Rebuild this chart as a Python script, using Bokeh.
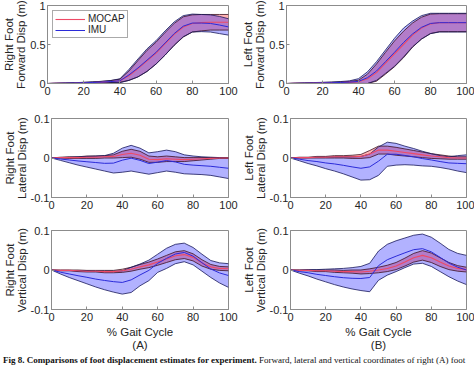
from bokeh.plotting import figure
from bokeh.layouts import column, row
from bokeh.models import FixedTicker, Legend, LegendItem, Div, Range1d
from bokeh.embed import file_html
from bokeh.resources import INLINE
import numpy as np

# ---------------- data ----------------
gait = [0, 5, 10, 15, 20, 25, 30, 35, 40, 45, 50, 55, 60, 65, 70, 75, 80, 85, 90, 95, 100]

# Right foot forward
rf_fwd_mocap_mean = [0, .002, .004, .006, .009, .013, .018, .025, .036, .10, .19, .29, .39, .51, .63, .725, .77, .78, .785, .785, .785]
rf_fwd_mocap_sd = [0, .002, .003, .004, .005, .007, .009, .012, .02, .06, .105, .135, .14, .145, .14, .13, .11, .105, .1, .1, .1]
rf_fwd_imu_mean = [0, .002, .004, .006, .009, .013, .018, .025, .035, .11, .20, .30, .40, .52, .64, .735, .775, .775, .77, .75, .725]
rf_fwd_imu_sd = [0, .003, .004, .005, .006, .008, .01, .014, .025, .07, .115, .145, .15, .155, .15, .135, .115, .11, .11, .11, .105]

# Left foot forward
lf_fwd_mocap_mean = [0, .002, .004, .006, .008, .01, .013, .017, .022, .06, .14, .26, .38, .50, .62, .71, .765, .78, .78, .78, .78]
lf_fwd_mocap_sd = [0, .002, .003, .004, .005, .006, .008, .01, .02, .06, .11, .14, .165, .17, .155, .14, .125, .115, .115, .115, .115]
lf_fwd_imu_mean = [0, .002, .004, .006, .008, .01, .013, .018, .027, .075, .16, .28, .40, .525, .635, .72, .77, .78, .78, .78, .78]
lf_fwd_imu_sd = [0, .003, .004, .006, .007, .009, .012, .016, .035, .075, .12, .15, .18, .185, .165, .15, .13, .12, .12, .12, .12]

# Right foot lateral
rf_lat_mocap_mean = [0, .001, .001, .001, .002, .002, .003, .004, .009, .012, .007, -.003, -.004, -.002, -.003, -.004, -.003, -.002, -.001, 0, 0]
rf_lat_mocap_sd = [0, .001, .002, .002, .003, .003, .003, .004, .008, .01, .01, .008, .007, .007, .006, .005, .004, .003, .002, .001, .001]
rf_lat_imu_mean = [0, -.0025, -.005, -.0075, -.0095, -.0115, -.0135, -.013, -.0055, -.0005, -.006, -.014, -.0105, -.0065, -.01, -.016, -.018, -.0195, -.021, -.0235, -.026]
rf_lat_imu_sd = [0, .0035, .007, .0105, .0135, .0165, .0195, .025, .0305, .0325, .031, .027, .0265, .0265, .026, .024, .023, .0225, .023, .0245, .026]

# Left foot lateral
lf_lat_mocap_mean = [0, .001, .001, .002, .002, .003, .003, .003, .004, .01, .02, .02, .017, .014, .011, .008, .005, .003, .001, 0, 0]
lf_lat_mocap_sd = [0, .001, .001, .002, .002, .003, .003, .004, .005, .009, .01, .01, .01, .009, .008, .007, .006, .005, .004, .003, .003]
lf_lat_imu_mean = [0, -.003, -.0065, -.009, -.0125, -.015, -.0185, -.0225, -.026, -.0225, -.008, .0095, .0095, .0065, .003, -.0015, -.005, -.009, -.0125, -.0135, -.0145]
lf_lat_imu_sd = [0, .004, .0075, .011, .0145, .018, .0215, .0255, .03, .0325, .036, .0305, .0275, .0235, .021, .0185, .016, .015, .0155, .0195, .0225]

# Right foot vertical
rf_vert_mocap_mean = [0, -.001, -.001, -.002, -.003, -.003, -.004, -.004, -.002, .002, .008, .013, .02, .028, .036, .039, .032, .018, .008, .004, .003]
rf_vert_mocap_sd = [0, .001, .001, .002, .002, .002, .003, .003, .004, .005, .006, .007, .008, .009, .01, .01, .009, .008, .006, .005, .005]
rf_vert_imu_mean = [0, -.0055, -.01, -.0145, -.0185, -.023, -.0265, -.0295, -.0315, -.025, -.0125, -.001, .017, .0295, .0405, .0445, .035, .0185, .0025, -.0075, -.014]
rf_vert_imu_sd = [0, .0045, .009, .0125, .0165, .02, .0235, .0265, .0295, .032, .0275, .026, .023, .0255, .0245, .0235, .022, .0215, .0215, .0255, .03]

# Left foot vertical
lf_vert_mocap_mean = [0, -.001, -.001, -.002, -.002, -.003, -.004, -.004, -.005, -.003, 0, .004, .01, .02, .031, .037, .031, .02, .01, .004, .001]
lf_vert_mocap_sd = [0, .001, .001, .002, .002, .003, .003, .004, .005, .006, .007, .008, .009, .01, .011, .012, .012, .011, .009, .007, .006]
lf_vert_imu_mean = [0, -.004, -.007, -.011, -.014, -.017, -.0195, -.021, -.0215, -.019, .011, .026, .035, .0435, .0515, .054, .046, .032, .0175, .007, 0]
lf_vert_imu_sd = [0, .004, .008, .012, .016, .02, .0235, .027, .0305, .036, .037, .039, .039, .0375, .0365, .037, .037, .036, .0345, .035, .037]

fwd_ticks = [0, 0.5, 1]
fwd_tick_labels = ["0", "0.5", "1"]
disp_ticks = [-0.1, 0, 0.1]
disp_tick_labels = ["-0.1", "0", "0.1"]
x_ticks = [0, 20, 40, 60, 80, 100]

FONT = "Liberation Sans"
AX = "#8c8c8c"
TXT = "#262626"


def panel(mm, ms, im, isd, ylabel, yr, yt, ytl, w, h, bl, br, bt, bb, xlabel=None, legend=False):
    p = figure(width=w, height=h, x_range=Range1d(0, 100), y_range=Range1d(*yr),
               output_backend="svg", toolbar_location=None,
               min_border_left=bl, min_border_right=br, min_border_top=bt, min_border_bottom=bb)
    mm, ms, im, isd = map(np.asarray, (mm, ms, im, isd))
    p.varea(x=gait, y1=mm - ms, y2=mm + ms, fill_color="red", fill_alpha=0.3)
    p.varea(x=gait, y1=im - isd, y2=im + isd, fill_color="blue", fill_alpha=0.3)
    for y in (mm - ms, mm + ms):
        p.line(gait, y, line_color="#3d1020", line_width=0.8)
    for y in (im - isd, im + isd):
        p.line(gait, y, line_color="#16165a", line_width=0.8)
    lm = p.line(gait, mm, line_color="#ee4a66", line_width=1.1)
    li = p.line(gait, im, line_color="#2b2bd9", line_width=1)

    p.grid.visible = False
    p.outline_line_color = AX
    p.background_fill_color = "white"
    p.border_fill_color = "white"
    for ax in (p.xaxis[0], p.yaxis[0]):
        ax.axis_line_color = AX
        ax.major_tick_line_color = AX
        ax.major_tick_in = 3
        ax.major_tick_out = 0
        ax.minor_tick_line_color = None
        ax.major_label_text_font = FONT
        ax.major_label_text_font_size = "11px"
        ax.major_label_text_color = TXT
        ax.axis_label_text_font = FONT
        ax.axis_label_text_font_size = "11.5px"
        ax.axis_label_text_font_style = "normal"
        ax.axis_label_text_color = TXT
    p.xaxis.ticker = FixedTicker(ticks=x_ticks)
    p.xaxis.major_label_standoff = 3
    p.yaxis.ticker = FixedTicker(ticks=yt)
    p.yaxis.major_label_overrides = {t: s for t, s in zip(yt, ytl)}
    p.yaxis.major_label_standoff = 2
    p.yaxis.axis_label = ylabel
    p.yaxis.axis_label_standoff = 0
    p.yaxis.axis_label_text_line_height = 1.0
    if xlabel:
        p.xaxis.axis_label = xlabel
        p.xaxis.axis_label_standoff = 2
        p.xaxis.axis_label_text_line_height = 1.15
    if legend:
        lg = Legend(items=[LegendItem(label="MOCAP", renderers=[lm]),
                           LegendItem(label="IMU", renderers=[li])],
                    location="top_left", margin=5, padding=2, spacing=0,
                    label_text_font=FONT, label_text_font_size="10px",
                    label_text_color=TXT, label_standoff=3,
                    glyph_width=30, glyph_height=10, label_height=10,
                    border_line_color="#555555", border_line_width=0.8,
                    background_fill_alpha=1)
        p.add_layout(lg)
    return p


LW, RW = 239, 235
BL, LBR, RBR = 46, 11, 8

p1 = panel(rf_fwd_mocap_mean, rf_fwd_mocap_sd, rf_fwd_imu_mean, rf_fwd_imu_sd,
           "Right Foot\nForward Disp (m)", (0, 1), fwd_ticks, fwd_tick_labels,
           LW, 109, BL, LBR, 5, 26, legend=True)
p2 = panel(lf_fwd_mocap_mean, lf_fwd_mocap_sd, lf_fwd_imu_mean, lf_fwd_imu_sd,
           "Left Foot\nForward Disp (m)", (0, 1), fwd_ticks, fwd_tick_labels,
           RW, 109, BL, RBR, 5, 26)
p3 = panel(rf_lat_mocap_mean, rf_lat_mocap_sd, rf_lat_imu_mean, rf_lat_imu_sd,
           "Right Foot\nLateral Disp (m)", (-0.1, 0.1), disp_ticks, disp_tick_labels,
           LW, 112, BL, LBR, 9, 24)
p4 = panel(lf_lat_mocap_mean, lf_lat_mocap_sd, lf_lat_imu_mean, lf_lat_imu_sd,
           "Left Foot\nLateral Disp (m)", (-0.1, 0.1), disp_ticks, disp_tick_labels,
           RW, 112, BL, RBR, 9, 24)
p5 = panel(rf_vert_mocap_mean, rf_vert_mocap_sd, rf_vert_imu_mean, rf_vert_imu_sd,
           "Right Foot\nVertical Disp (m)", (-0.1, 0.1), disp_ticks, disp_tick_labels,
           LW, 133, BL, LBR, 9, 44, xlabel="% Gait Cycle\n(A)")
p6 = panel(lf_vert_mocap_mean, lf_vert_mocap_sd, lf_vert_imu_mean, lf_vert_imu_sd,
           "Left Foot\nVertical Disp (m)", (-0.1, 0.1), disp_ticks, disp_tick_labels,
           RW, 133, BL, RBR, 9, 44, xlabel="% Gait Cycle\n(B)")

caption = Div(text=('<div style="font-family:\'Liberation Serif\',serif; font-size:9px; '
                    'white-space:nowrap; overflow:hidden; width:470px; padding-top:1px; '
                    'padding-left:3px; line-height:1.1; color:#111;"><b>Fig 8. Comparisons of foot '
                    'displacement estimates for experiment.</b> Forward, lateral and vertical '
                    'coordinates of right (A) foot</div>'),
              width=474, height=12, margin=(0, 0, 0, 0))

layout = column(row(p1, p2), row(p3, p4), row(p5, p6), caption)

open("out.html", "w").write(file_html(layout, INLINE))
